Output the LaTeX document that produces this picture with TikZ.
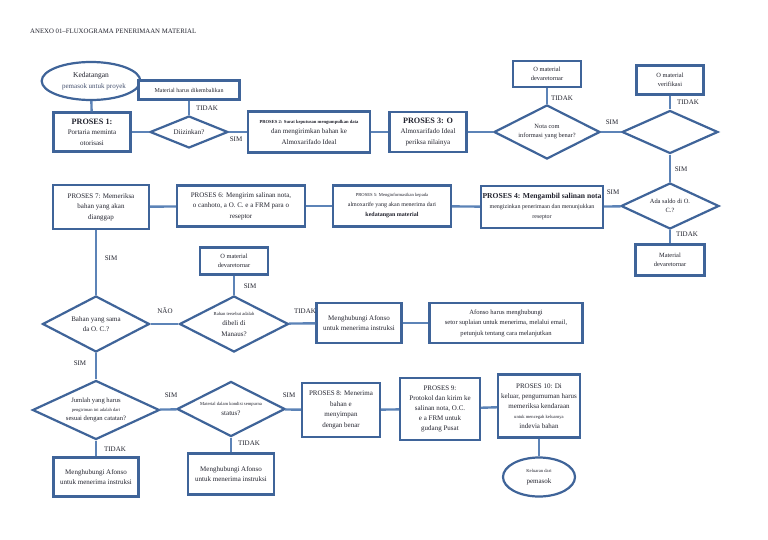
\documentclass[tikz,border=0pt]{standalone}
\usepackage{fontspec}
\setmainfont{Liberation Serif}
\usetikzlibrary{positioning}
\usetikzlibrary{shapes.geometric}
\definecolor{Frame}{HTML}{3F6499}
\definecolor{Link}{HTML}{5C83B7}
\definecolor{Ink}{HTML}{22232E}
\definecolor{Slate}{HTML}{44506E}
\newcommand{\tinyline}[1]{{\fontsize{4.6}{6}\selectfont #1}}
\newcommand{\headline}[1]{{\fontsize{8.2}{10}\selectfont\bfseries #1}}
\tikzset{
  % connectors are plain thick lines without tips
  every edge/.append style={-,draw=Link,line width=2.4pt},
  % one pixel of the sheet is one point
  sheet/.style={x=1pt,y=-1pt},
}
\tikzset{proc/.style={
    draw=Frame,line width=2.2pt,fill=white,text=Ink,
    align=center,inner sep=1pt,
    font=\fontsize{7}{10.5}\selectfont,
  }
}
\tikzset{decision/.style={proc,diamond,aspect=2,inner sep=0pt}}
\tikzset{terminal/.style={proc,ellipse,inner sep=0pt}}
\tikzset{answer/.style={text=Ink,inner sep=1pt,font=\fontsize{7}{8}\selectfont}}

\begin{document}
\begin{tikzpicture}[sheet]
  \useasboundingbox[fill=white] (0,0) rectangle (768,540);
  \node[anchor=west,text=Ink,inner sep=0pt,font=\fontsize{6.8}{8}\selectfont] (title) at (30,31)
    {ANEXO 01--FLUXOGRAMA PENERIMAAN MATERIAL};
  % first row
  \node[terminal,minimum width=80pt,minimum height=38pt] (start) at (91,81)
    {{\fontsize{7.5}{9}\selectfont Kedatangan}\\[1pt] \textcolor{Slate}{\hspace*{6pt}pemasok untuk proyek}};
  \node[proc,minimum width=101pt,minimum height=19pt,font=\fontsize{6}{8}\selectfont] (back1) at (189,90)
    {Material harus dikembalikan};
  \node[proc,minimum width=77pt,minimum height=39pt] (p1) at (92,132)
    {\headline{PROSES 1:}\\ Portaria meminta\\ otorisasi};
  \node[decision,minimum width=78pt,minimum height=32pt] (d1) at (189,132) {Diizinkan?};
  \node[proc,minimum width=122pt,minimum height=41pt] (p2) at (309,132)
    {\tinyline{\bfseries PROSES 2: Surat keputusan mengumpulkan data}\\ dan mengirimkan bahan ke\\ Almoxarifado Ideal};
  \node[proc,minimum width=77pt,minimum height=40pt] (p3) at (428,132)
    {\headline{PROSES 3: O}\\ Almoxarifado Ideal\\ periksa nilainya};
  \node[decision,minimum width=106pt,minimum height=54pt,font=\fontsize{6.4}{9}\selectfont] (d2) at (547,132)
    {Nota com\\ informasi yang benar?};
  \node[proc,minimum width=68pt,minimum height=26pt,font=\fontsize{6.4}{9}\selectfont] (ret1) at (547,74)
    {O material\\ devaretornar};
  \node[decision,minimum width=96pt,minimum height=43pt] (d3) at (670,132) {};
  \node[proc,minimum width=67pt,minimum height=29pt,font=\fontsize{6.4}{9}\selectfont] (ver1) at (670,80)
    {O material\\ verifikasi};
  % second row, read from right to left
  \node[decision,minimum width=98pt,minimum height=46pt,font=\fontsize{6.4}{9}\selectfont] (d4) at (670,206)
    {Ada saldo di O.\\ C.?};
  \node[proc,minimum width=69pt,minimum height=31pt,font=\fontsize{6.4}{9}\selectfont] (ret2) at (670,260)
    {Material\\ devaretornar};
  \node[proc,minimum width=122pt,minimum height=42pt,font=\fontsize{6}{10}\selectfont] (p4) at (542,207)
    {{\fontsize{7.6}{10}\selectfont\bfseries PROSES 4: Mengambil salinan nota}\\ mengizinkan penerimaan dan menunjukkan\\ reseptor};
  \node[proc,minimum width=118pt,minimum height=41pt,font=\fontsize{6}{10}\selectfont] (p5) at (392,206)
    {\tinyline{PROSES 5: Menginformasikan kepada}\\ almoxarife yang akan menerima dari\\ {\bfseries kedatangan material}};
  \node[proc,minimum width=128pt,minimum height=41pt] (p6) at (241,206)
    {PROSES 6: Mengirim salinan nota,\\ o canhoto, a O. C. e a FRM para o\\ reseptor};
  \node[proc,minimum width=96pt,minimum height=44pt] (p7) at (101,207)
    {PROSES 7: Memeriksa\\ bahan yang akan\\ dianggap};
  % third row
  \node[decision,minimum width=107pt,minimum height=56pt] (d5) at (96,324)
    {Bahan yang sama\\ da O. C.?};
  \node[decision,minimum width=109pt,minimum height=56pt] (d6) at (234,324)
    {\tinyline{Bahan tersebut adalah}\\ dibeli di\\ Manaus?};
  \node[proc,minimum width=68pt,minimum height=27pt,font=\fontsize{6.4}{9}\selectfont] (ret3) at (234,261)
    {O material\\ devaretornar};
  \node[proc,minimum width=85pt,minimum height=40pt] (m1) at (359,323)
    {Menghubungi Afonso\\ untuk menerima instruksi};
  \node[proc,minimum width=153pt,minimum height=40pt,font=\fontsize{6.6}{10.5}\selectfont] (m2) at (506,323)
    {Afonso harus menghubungi\\ setor suplaian untuk menerima, melalui email,\\ petunjuk tentang cara melanjutkan};
  % fourth row
  \node[decision,minimum width=127pt,minimum height=59pt,font=\fontsize{6.6}{9}\selectfont] (d7) at (96,410)
    {Jumlah yang harus\\ \tinyline{pengiriman ini adalah dari}\\ sesuai dengan catatan?};
  \node[decision,minimum width=108pt,minimum height=55pt] (d8) at (231,409)
    {\tinyline{Material dalam kondisi sempurna}\\ status?};
  \node[proc,minimum width=78pt,minimum height=54pt] (p8) at (341,410)
    {PROSES 8: Menerima\\ bahan e\\ menyimpan\\ dengan benar};
  \node[proc,minimum width=80pt,minimum height=62pt,font=\fontsize{7}{10}\selectfont] (p9) at (440,409)
    {PROSES 9:\\ Protokol dan kirim ke\\ salinan nota, O.C.\\ e a FRM untuk\\ gudang Pusat};
  \node[proc,minimum width=82pt,minimum height=63pt,font=\fontsize{7}{10}\selectfont] (p10) at (539,406)
    {PROSES 10: Di\\ keluar, pengumuman harus\\ memeriksa kendaraan\\ \tinyline{untuk mencegah keluarnya}\\ indevia bahan};
  \node[proc,minimum width=85pt,minimum height=39pt] (m3) at (96,477)
    {Menghubungi Afonso\\ untuk menerima instruksi};
  \node[proc,minimum width=86pt,minimum height=41pt] (m4) at (231,474)
    {Menghubungi Afonso\\ untuk menerima instruksi};
  \node[terminal,minimum width=72pt,minimum height=39pt] (stop) at (539,477)
    {\tinyline{Keluaran dari}\\ pemasok};
  % connectors
  \path (start) edge (p1) (p1) edge (d1) (back1) edge (d1) (d1) edge (p2)
    (p2) edge (p3) (p3) edge (d2) (ret1) edge (d2) (d2) edge (d3)
    (ver1) edge (d3) (d3) edge (d4) (d4) edge (ret2) (d4) edge (p4)
    (p4) edge (p5) (p5) edge (p6) (p6) edge (p7)
    (d5 |- p7.south) edge (d5) (d5) edge (d6) (ret3) edge (d6)
    (d6) edge (m1) (m1) edge (m2) (d5) edge (d7) (d7) edge (d8)
    (d8) edge (p8) (p8) edge (p9) (p9) edge (p10) (p10) edge (stop)
    (d7) edge (m3) (d8) edge (m4);
  % answers on the connectors
  \node[answer] (t1) at (207,108) {TIDAK};
  \node[answer] (s1) at (236,139) {SIM};
  \node[answer] (t2) at (562,98) {TIDAK};
  \node[answer] (s2) at (612,122) {SIM};
  \node[answer] (t3) at (688,102) {TIDAK};
  \node[answer] (s3) at (681,169) {SIM};
  \node[answer] (s4) at (613,192) {SIM};
  \node[answer] (t4) at (687,234) {TIDAK};
  \node[answer] (s5) at (111,258) {SIM};
  \node[answer] (n1) at (165,311) {NÃO};
  \node[answer] (s6) at (250,286) {SIM};
  \node[answer] (t5) at (305,311) {TIDAK};
  \node[answer] (s7) at (80,363) {SIM};
  \node[answer] (s8) at (171,395) {SIM};
  \node[answer] (s9) at (289,395) {SIM};
  \node[answer] (t6) at (115,449) {TIDAK};
  \node[answer] (t7) at (249,443) {TIDAK};
\end{tikzpicture}
\end{document}
